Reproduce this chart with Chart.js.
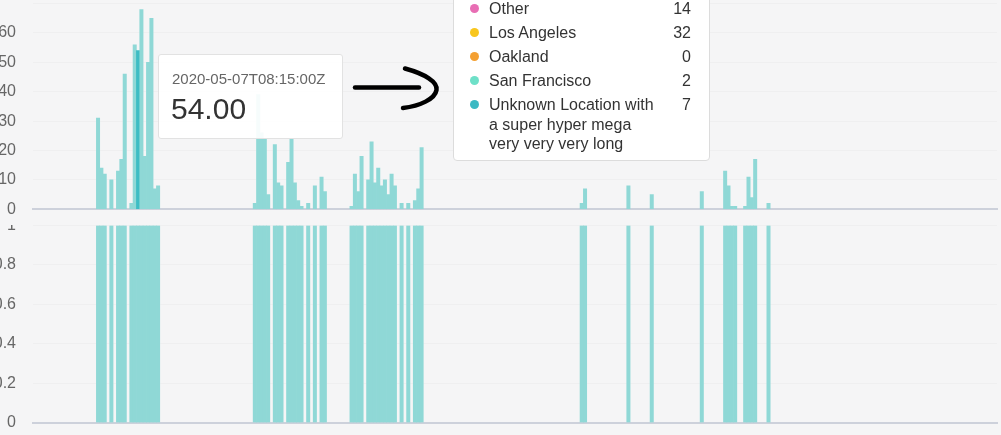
<!DOCTYPE html>
<html lang="en">
<head>
    <meta charset="UTF-8">
    <title>Location counts</title>
    <style>
        html, body {
            margin: 0;
            padding: 0;
            background: #f5f5f6;
            overflow: hidden;
        }

        #wrap {
            position: relative;
            width: 1001px;
            height: 435px;
            overflow: hidden;
            background: #f5f5f6;
            font-family: "Liberation Sans", Arial, sans-serif;
        }

        .chartBox {
            position: absolute;
            left: -40px;
            width: 1040px;
        }

        #bottomBox { top: 200px; height: 235px; }
        /* top chart sits over the bottom one, hides the top of its "1" label */
        #topBox { top: -10px; height: 235px; background: #f5f5f6; }

        #tooltip {
            position: absolute;
            left: 158px;
            top: 54px;
            width: 185px;
            height: 85px;
            box-sizing: border-box;
            border: 1px solid #e2e2e2;
            border-radius: 3px;
            background: rgba(255, 255, 255, 0.92);
        }
        #tipTitle {
            position: absolute;
            left: 13px;
            top: 15px;
            font-size: 15px;
            line-height: 18px;
            color: #666;
            white-space: nowrap;
        }
        #tipValue {
            position: absolute;
            left: 12px;
            top: 37px;
            font-size: 30px;
            line-height: 34px;
            color: #333;
        }

        #legend {
            position: absolute;
            left: 453px;
            top: -20px;
            width: 257px;
            height: 181px;
            box-sizing: border-box;
            border: 1px solid #dcdcdc;
            border-radius: 4px;
            background: #fff;
            padding-top: 18px;
            color: #333;
            font-size: 16px;
        }
        .row {
            position: relative;
            line-height: 19.5px;
            margin-bottom: 4.5px;
            padding-left: 35px;
        }
        .row .name { width: 170px; }
        .row .dot {
            position: absolute;
            left: 15.5px;
            top: 5.25px;
            width: 9px;
            height: 9px;
            border-radius: 50%;
        }
        .row .num {
            position: absolute;
            right: 18px;
            top: 0;
        }

        #arrow {
            position: absolute;
            left: 0;
            top: 0;
            pointer-events: none;
        }
    </style>
</head>
<body>
<div id="wrap">
    <div class="chartBox" id="bottomBox"><canvas id="reportChart"></canvas></div>
    <div class="chartBox" id="topBox"><canvas id="countChart"></canvas></div>

    <div id="tooltip">
        <div id="tipTitle"></div>
        <div id="tipValue"></div>
    </div>

    <div id="legend"></div>

    <svg id="arrow" width="1001" height="435">
        <path d="M355 87.5 L419 87.5" stroke="#000" stroke-width="4.5" stroke-linecap="round" fill="none"/>
        <path d="M405 68.5 C425 74, 438 82, 436.5 90 C435 99, 420 106, 403 108" stroke="#000" stroke-width="4.5" stroke-linecap="round" fill="none"/>
    </svg>
</div>

<script src="https://cdn.jsdelivr.net/npm/chart.js"></script>
<script>
    // 15 minute buckets, 289 of them
    const START_TIME = Date.UTC(2020, 4, 7, 0, 30);
    const timeLabels = [];
    for (let i = 0; i < 289; i++) {
        timeLabels.push(new Date(START_TIME + i * 15 * 60000).toISOString().replace('.000', ''));
    }

    // count per bucket
    const countValues = [
        0, 0, 0, 0, 0, 0, 0, 0, 0, 0,        // 0
        0, 0, 0, 0, 0, 0, 0, 0, 0, 31,       // 10
        14, 12, 0, 10, 0, 13, 17, 46, 0, 2,  // 20
        56, 54, 68, 18, 50, 65, 7, 8, 0, 0,  // 30
        0, 0, 0, 0, 0, 0, 0, 0, 0, 0,        // 40
        0, 0, 0, 0, 0, 0, 0, 0, 0, 0,        // 50
        0, 0, 0, 0, 0, 0, 2, 39, 26, 24,     // 60
        5, 0, 22, 9, 8, 0, 16, 24, 9, 3,     // 70
        1, 0, 2, 0, 8, 0, 11, 6, 0, 0,       // 80
        0, 0, 0, 0, 0, 1, 12, 6, 18, 0,      // 90
        10, 23, 9, 14, 8, 10, 5, 12, 8, 0,   // 100
        2, 0, 2, 0, 3, 7, 21, 0, 0, 0,       // 110
        0, 0, 0, 0, 0, 0, 0, 0, 0, 0,        // 120
        0, 0, 0, 0, 0, 0, 0, 0, 0, 0,        // 130
        0, 0, 0, 0, 0, 0, 0, 0, 0, 0,        // 140
        0, 0, 0, 0, 0, 0, 0, 0, 0, 0,        // 150
        0, 0, 0, 0, 2, 7, 0, 0, 0, 0,        // 160
        0, 0, 0, 0, 0, 0, 0, 0, 8, 0,        // 170
        0, 0, 0, 0, 0, 5, 0, 0, 0, 0,        // 180
        0, 0, 0, 0, 0, 0, 0, 0, 0, 0,        // 190
        6, 0, 0, 0, 0, 0, 0, 13, 8, 1,       // 200
        1, 0, 0, 1, 11, 4, 17, 0, 0, 0,      // 210
        2, 0, 0, 0, 0, 0, 0, 0, 0, 0,        // 220
        0, 0, 0, 0, 0, 0, 0, 0, 0, 0,        // 230
        0, 0, 0, 0, 0, 0, 0, 0, 0, 0,        // 240
        0, 0, 0, 0, 0, 0, 0, 0, 0, 0,        // 250
        0, 0, 0, 0, 0, 0, 0, 0, 0, 0,        // 260
        0, 0, 0, 0, 0, 0, 0, 0, 0, 0,        // 270
        0, 0, 0, 0, 0, 0, 0, 0, 0            // 280
    ];

    // reported (1) / not reported (0) per bucket
    const reportedValues = [
        0, 0, 0, 0, 0, 0, 0, 0, 0, 0,
        0, 0, 0, 0, 0, 0, 0, 0, 0, 1,
        1, 1, 0, 1, 0, 1, 1, 1, 0, 1,
        1, 1, 1, 1, 1, 1, 1, 1, 0, 0,
        0, 0, 0, 0, 0, 0, 0, 0, 0, 0,
        0, 0, 0, 0, 0, 0, 0, 0, 0, 0,
        0, 0, 0, 0, 0, 0, 1, 1, 1, 1,
        1, 0, 1, 1, 1, 0, 1, 1, 1, 1,
        1, 0, 1, 0, 1, 0, 1, 1, 0, 0,
        0, 0, 0, 0, 0, 1, 1, 1, 1, 0,
        1, 1, 1, 1, 1, 1, 1, 1, 1, 0,
        1, 0, 1, 0, 1, 1, 1, 0, 0, 0,
        0, 0, 0, 0, 0, 0, 0, 0, 0, 0,
        0, 0, 0, 0, 0, 0, 0, 0, 0, 0,
        0, 0, 0, 0, 0, 0, 0, 0, 0, 0,
        0, 0, 0, 0, 0, 0, 0, 0, 0, 0,
        0, 0, 0, 0, 1, 1, 0, 0, 0, 0,
        0, 0, 0, 0, 0, 0, 0, 0, 1, 0,
        0, 0, 0, 0, 0, 1, 0, 0, 0, 0,
        0, 0, 0, 0, 0, 0, 0, 0, 0, 0,
        1, 0, 0, 0, 0, 0, 0, 1, 1, 1,
        1, 0, 0, 1, 1, 1, 1, 0, 0, 0,
        1, 0, 0, 0, 0, 0, 0, 0, 0, 0,
        0, 0, 0, 0, 0, 0, 0, 0, 0, 0,
        0, 0, 0, 0, 0, 0, 0, 0, 0, 0,
        0, 0, 0, 0, 0, 0, 0, 0, 0, 0,
        0, 0, 0, 0, 0, 0, 0, 0, 0, 0,
        0, 0, 0, 0, 0, 0, 0, 0, 0, 0,
        0, 0, 0, 0, 0, 0, 0, 0, 0
    ];

    const countTicks = [0, 10, 20, 30, 40, 50, 60];

    // legend list
    const legendNames = ['Other', 'Los Angeles', 'Oakland', 'San Francisco',
        'Unknown Location with a super hyper mega very very very long'];
    const legendCounts = [14, 32, 0, 2, 7];
    const legendColors = ['#e86eb4', '#f8c61e', '#f4a032', '#6ee0c8', '#3cb9c3'];

    const HOVER_INDEX = 31; // the bar under the tooltip

    const FONT = '"Liberation Sans", Arial, sans-serif';
    const BAR = '#8fd8d6';
    const BAR_ACTIVE = '#3ebdc4';
    const AXIS = '#cdd1db';
    const GRID = 'rgba(0, 0, 0, 0.025)';

    Chart.defaults.font.family = FONT;

    function baseOptions(padding) {
        return {
            responsive: true,
            maintainAspectRatio: false,
            animation: false,
            events: [],
            layout: { padding: padding },
            plugins: {
                legend: { display: false },
                tooltip: { enabled: false }
            },
            scales: {
                x: {
                    grid: { display: false },
                    ticks: { display: false },
                    border: { display: true, color: AXIS, width: 2 },
                    afterFit: scale => { scale.height = 0; }
                },
                y: {
                    min: 0,
                    // tick marks are invisible, they only push the labels left
                    grid: { color: GRID, drawTicks: true, tickLength: 17, tickColor: 'rgba(0,0,0,0)' },
                    border: { display: false },
                    ticks: { padding: 0, color: '#666', font: { size: 16 } },
                    afterFit: scale => { scale.width = 73; }
                }
            }
        };
    }

    // zero bars must not be inflated, or they paint a line over the axis
    function barDataset(values, color) {
        return {
            data: values,
            backgroundColor: color,
            borderWidth: 0,
            barPercentage: 1,
            categoryPercentage: 1,
            inflateAmount: ctx => ctx.raw === 0 ? 0 : 'auto'
        };
    }

    // top chart: counts
    const topOptions = baseOptions({ top: 13.6, right: 3, bottom: 15.7, left: 0 });
    topOptions.scales.y.max = 70;
    topOptions.scales.y.ticks.stepSize = 10;
    topOptions.scales.y.ticks.callback = v => countTicks.includes(v) ? v : '';

    new Chart(document.getElementById('countChart'), {
        type: 'bar',
        data: {
            labels: timeLabels,
            datasets: [barDataset(countValues, ctx => ctx.dataIndex === HOVER_INDEX ? BAR_ACTIVE : BAR)]
        },
        options: topOptions
    });

    // bottom chart: reported or not
    const bottomOptions = baseOptions({ top: 25.5, right: 3, bottom: 12.3, left: 0 });
    bottomOptions.scales.y.max = 1;
    bottomOptions.scales.y.ticks.stepSize = 0.2;
    bottomOptions.scales.y.ticks.callback = v => String(v);

    new Chart(document.getElementById('reportChart'), {
        type: 'bar',
        data: {
            labels: timeLabels,
            datasets: [barDataset(reportedValues, BAR)]
        },
        options: bottomOptions
    });

    // tooltip text
    document.getElementById('tipTitle').textContent = timeLabels[HOVER_INDEX];
    document.getElementById('tipValue').textContent = countValues[HOVER_INDEX].toFixed(2);

    // legend rows
    const legend = document.getElementById('legend');
    legendNames.forEach((name, i) => {
        const row = document.createElement('div');
        row.className = 'row';
        const dot = document.createElement('span');
        dot.className = 'dot';
        dot.style.background = legendColors[i];
        const label = document.createElement('div');
        label.className = 'name';
        label.textContent = name;
        const num = document.createElement('span');
        num.className = 'num';
        num.textContent = legendCounts[i];
        row.appendChild(dot);
        row.appendChild(label);
        row.appendChild(num);
        legend.appendChild(row);
    });
</script>
</body>
</html>
